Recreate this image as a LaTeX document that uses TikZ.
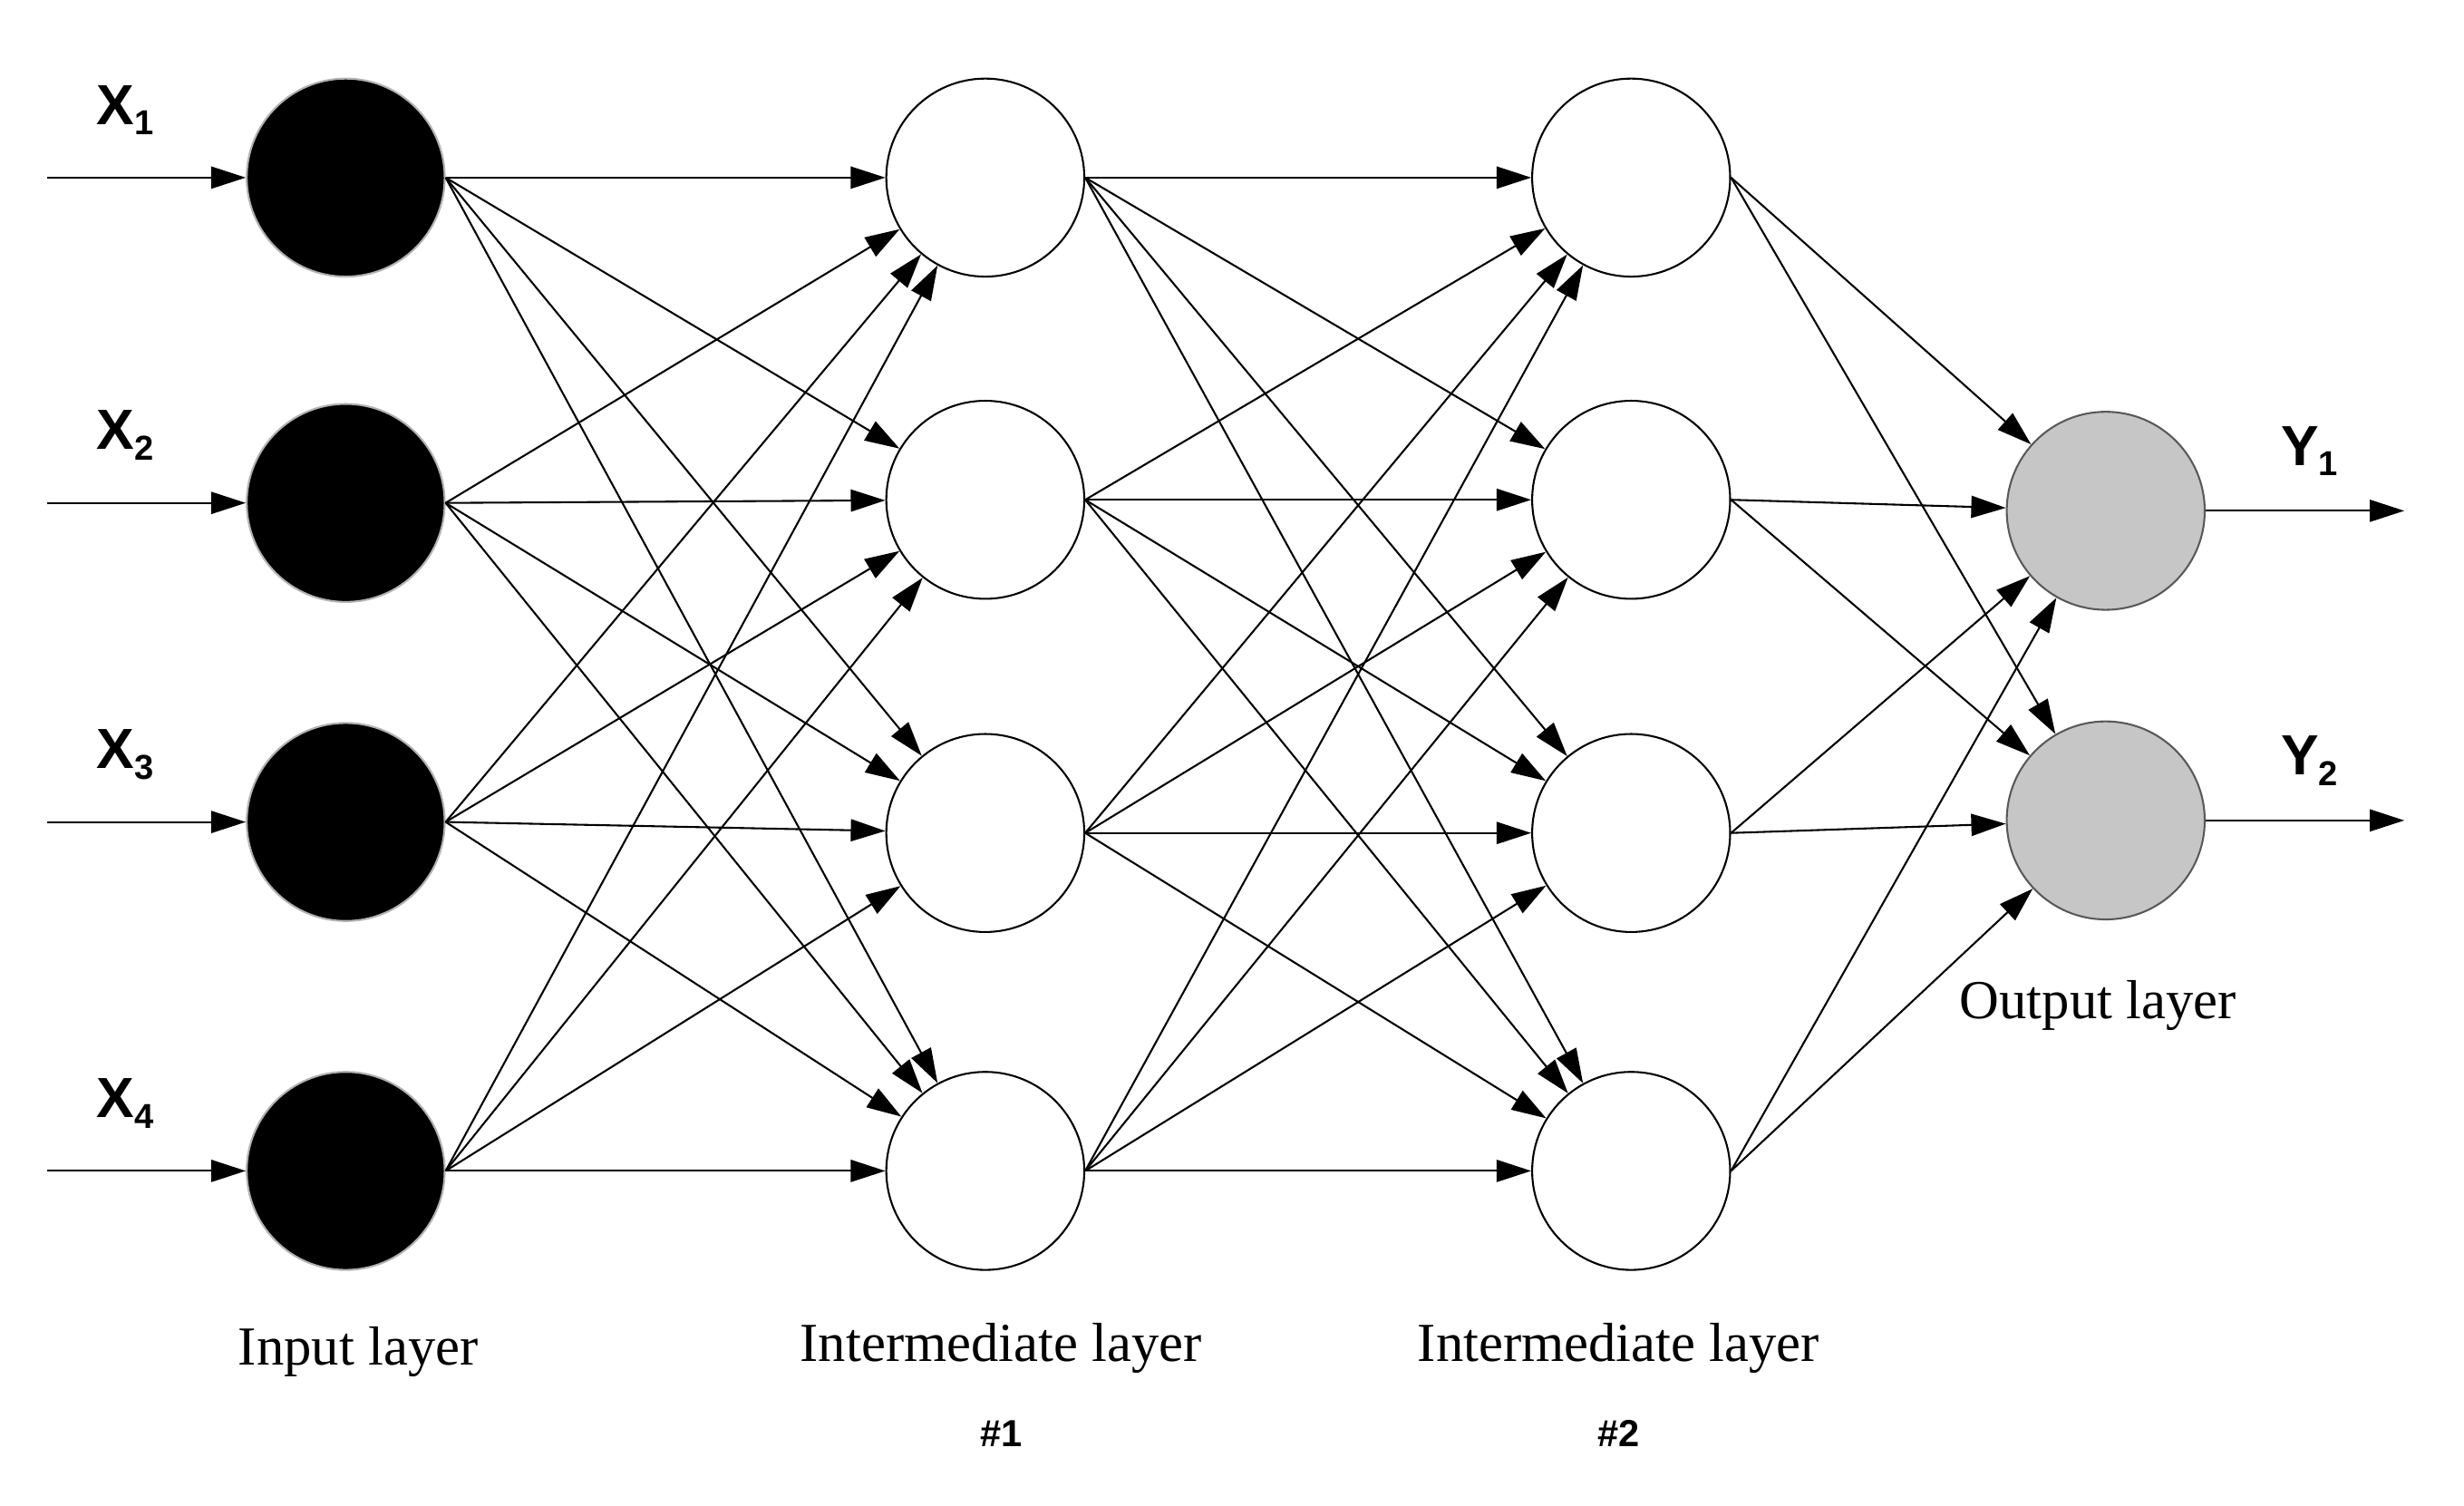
\documentclass[tikz,border=0pt]{standalone}
\usepackage{fontspec}
\setmainfont{Liberation Serif}
\newfontfamily\sansf{Liberation Sans}
\usetikzlibrary{arrows.meta}
\begin{document}
\begin{tikzpicture}[x=1pt,y=-1pt,
  neuron/.style={circle,draw,line width=1.2pt,minimum size=126pt,inner sep=0pt},
  inp/.style={neuron,fill=black,draw=gray!60},
  hid/.style={neuron,fill=white},
  outn/.style={neuron,fill=gray!45,draw=gray!70!black},
  conn/.style={-{Triangle[length=22pt,width=14pt]},line width=1.2pt},
  lbl/.style={font=\fontsize{35}{40}\selectfont},
  var/.style={font=\sansf\bfseries\fontsize{36}{40}\selectfont}]
\useasboundingbox (0,0) rectangle (1568,958);
\foreach \i/\y in {1/113,2/320,3/523,4/745}{
  \node[inp] (i\i) at (220,\y) {};
  \coordinate (s\i) at (30,\y);
  \draw[conn] (s\i) -- (i\i);
  \node[var] (x\i) at (80,\y-43) {X\textsubscript{\fontsize{22}{24}\selectfont\i}};
}
\foreach \i/\y in {1/113,2/318,3/530,4/745}{
  \node[hid] (a\i) at (627,\y) {};
  \node[hid] (b\i) at (1038,\y) {};
}
\node[outn] (o1) at (1340,325) {};
\node[outn] (o2) at (1340,522) {};
\foreach \i in {1,...,4}{\foreach \j in {1,...,4}{
  \draw[conn] (i\i.east) -- (a\j);
  \draw[conn] (a\i.east) -- (b\j);}
  \draw[conn] (b\i.east) -- (o1);
  \draw[conn] (b\i.east) -- (o2);}
\foreach \k/\y in {1/325,2/522}{
  \coordinate (e\k) at (1530,\y);
  \draw[conn] (o\k) -- (e\k);
  \node[var] (y\k) at (1470,\y-38) {Y\textsubscript{\fontsize{22}{24}\selectfont\k}};
}
\node[lbl] (l0) at (228,860) {Input layer};
\node[lbl] (l1) at (637,858) {Intermediate layer};
\node[var,font=\sansf\bfseries\fontsize{24}{28}\selectfont] (n1) at (637,912) {\#1};
\node[lbl] (l2) at (1030,858) {Intermediate layer};
\node[var,font=\sansf\bfseries\fontsize{24}{28}\selectfont] (n2) at (1030,912) {\#2};
\node[lbl] (l3) at (1335,640) {Output layer};
\end{tikzpicture}
\end{document}
